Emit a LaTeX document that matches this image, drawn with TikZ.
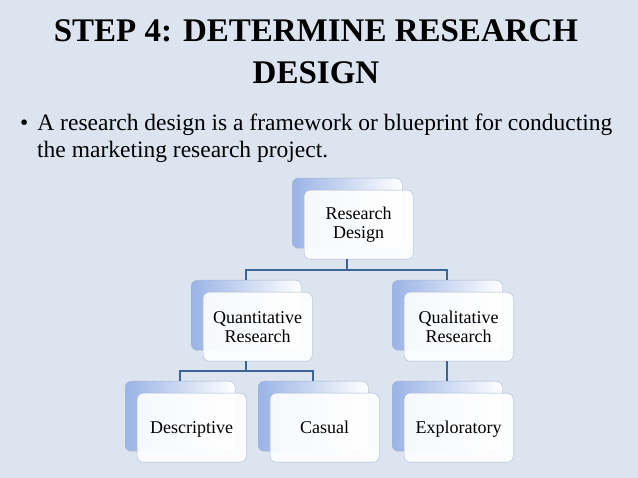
\documentclass[tikz,border=0pt]{standalone}
\usepackage{fontspec}
\setmainfont{Liberation Serif}
\definecolor{bg}{HTML}{DCE4F0}
\definecolor{bord}{HTML}{A8B8D0}
\definecolor{backc}{HTML}{9AB3E6}
\definecolor{linec}{HTML}{3A6596}
\begin{document}
\begin{tikzpicture}[x=1pt,y=-1pt,
  backbox/.style={draw=bord,rounded corners=6pt,minimum width=110pt,minimum height=70pt,left color=backc,right color=white,anchor=north west,inner sep=0pt},
  frontbox/.style={draw=bord,rounded corners=6pt,fill=white,fill opacity=0.9,text opacity=1,minimum width=109pt,minimum height=69pt,anchor=north west,inner sep=0pt,align=center,font=\fontsize{18}{19}\selectfont},
  conn/.style={draw=linec,line width=1.7pt}]
\fill[bg] (0,0) rectangle (638,478);
\node[font=\fontsize{33}{42}\selectfont\bfseries,align=center] (title) at (316,52) {STEP 4: DETERMINE RESEARCH\\DESIGN};
\node[font=\fontsize{23.5}{27}\selectfont,align=left,anchor=north west,inner sep=0pt] (bul) at (20,114) {•\hspace{9pt}A research design is a framework or blueprint for conducting\\\hspace{17pt}the marketing research project.};
% boxes
\node[backbox] (rdb) at (292,178) {};
\node[frontbox] (rd) at (304,190) {Research\\Design};
\node[backbox] (qnb) at (191,280) {};
\node[frontbox] (qn) at (203,292) {Quantitative\\Research};
\node[backbox] (qlb) at (392,280) {};
\node[frontbox] (ql) at (404,292) {Qualitative\\Research};
\node[backbox] (deb) at (125,381) {};
\node[frontbox,text depth=-3pt] (de) at (137,393) {Descriptive};
\node[backbox] (cab) at (258,381) {};
\node[frontbox,text depth=-3pt] (ca) at (270,393) {Casual};
\node[backbox] (exb) at (392,381) {};
\node[frontbox,text depth=-3pt] (ex) at (404,393) {Exploratory};
% connectors
\coordinate (j1) at (347,270);
\coordinate (j2) at (246,371);
\draw[conn] (rd.south -| j1) -- (j1);
\draw[conn] (j1) -| (qnb.north);
\draw[conn] (j1) -| (qlb.north);
\draw[conn] (qn.south -| j2) -- (j2);
\draw[conn] (j2) -| (deb.north);
\draw[conn] (j2) -| (cab.north);
\draw[conn] (ql.south -| qlb.north) -- (exb.north);
\end{tikzpicture}
\end{document}
